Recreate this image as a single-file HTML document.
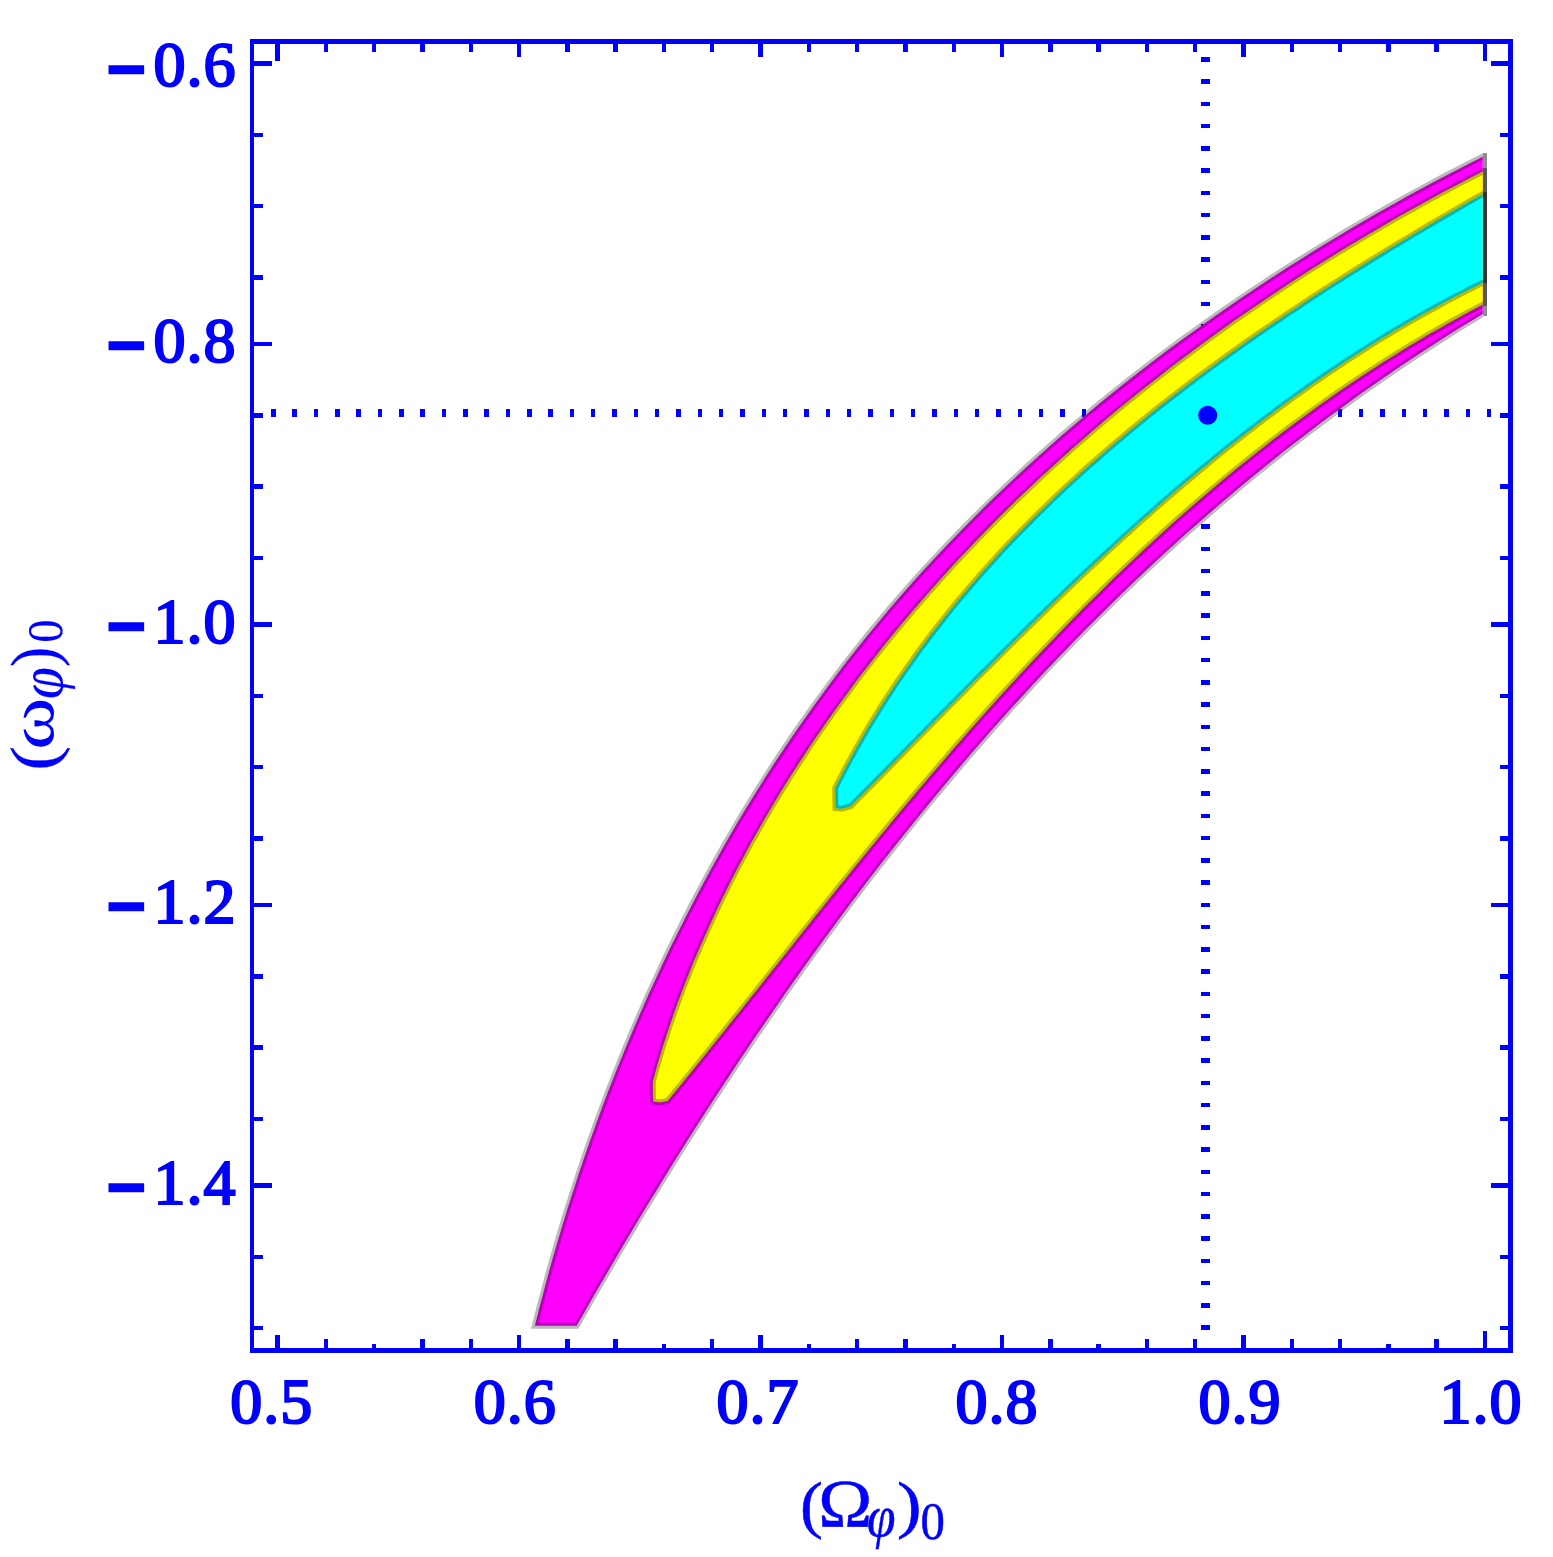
<!DOCTYPE html>
<html lang="en"><head><meta charset="utf-8"><title>Contour plot</title>
<style>
html,body{margin:0;padding:0;background:#fff;}
body{width:1553px;height:1557px;overflow:hidden;}
svg{display:block;}
</style></head><body>
<svg width="1553" height="1557" viewBox="0 0 1553 1557">
<rect width="1553" height="1557" fill="#fff"/>
<g fill="#0000ff" shape-rendering="crispEdges">
<rect x="271.1" y="408.7" width="4.4" height="8.7"/>
<rect x="292.4" y="408.7" width="4.4" height="8.7"/>
<rect x="313.8" y="408.7" width="4.4" height="8.7"/>
<rect x="335.1" y="408.7" width="4.4" height="8.7"/>
<rect x="356.4" y="408.7" width="4.4" height="8.7"/>
<rect x="377.7" y="408.7" width="4.4" height="8.7"/>
<rect x="399.1" y="408.7" width="4.4" height="8.7"/>
<rect x="420.4" y="408.7" width="4.4" height="8.7"/>
<rect x="441.7" y="408.7" width="4.4" height="8.7"/>
<rect x="463.1" y="408.7" width="4.4" height="8.7"/>
<rect x="484.4" y="408.7" width="4.4" height="8.7"/>
<rect x="505.7" y="408.7" width="4.4" height="8.7"/>
<rect x="527.1" y="408.7" width="4.4" height="8.7"/>
<rect x="548.4" y="408.7" width="4.4" height="8.7"/>
<rect x="569.7" y="408.7" width="4.4" height="8.7"/>
<rect x="591.0" y="408.7" width="4.4" height="8.7"/>
<rect x="612.4" y="408.7" width="4.4" height="8.7"/>
<rect x="633.7" y="408.7" width="4.4" height="8.7"/>
<rect x="655.0" y="408.7" width="4.4" height="8.7"/>
<rect x="676.4" y="408.7" width="4.4" height="8.7"/>
<rect x="697.7" y="408.7" width="4.4" height="8.7"/>
<rect x="719.0" y="408.7" width="4.4" height="8.7"/>
<rect x="740.4" y="408.7" width="4.4" height="8.7"/>
<rect x="761.7" y="408.7" width="4.4" height="8.7"/>
<rect x="783.0" y="408.7" width="4.4" height="8.7"/>
<rect x="804.4" y="408.7" width="4.4" height="8.7"/>
<rect x="825.7" y="408.7" width="4.4" height="8.7"/>
<rect x="847.0" y="408.7" width="4.4" height="8.7"/>
<rect x="868.3" y="408.7" width="4.4" height="8.7"/>
<rect x="889.7" y="408.7" width="4.4" height="8.7"/>
<rect x="911.0" y="408.7" width="4.4" height="8.7"/>
<rect x="932.3" y="408.7" width="4.4" height="8.7"/>
<rect x="953.7" y="408.7" width="4.4" height="8.7"/>
<rect x="975.0" y="408.7" width="4.4" height="8.7"/>
<rect x="996.3" y="408.7" width="4.4" height="8.7"/>
<rect x="1017.7" y="408.7" width="4.4" height="8.7"/>
<rect x="1039.0" y="408.7" width="4.4" height="8.7"/>
<rect x="1060.3" y="408.7" width="4.4" height="8.7"/>
<rect x="1081.6" y="408.7" width="4.4" height="8.7"/>
<rect x="1103.0" y="408.7" width="4.4" height="8.7"/>
<rect x="1124.3" y="408.7" width="4.4" height="8.7"/>
<rect x="1145.6" y="408.7" width="4.4" height="8.7"/>
<rect x="1167.0" y="408.7" width="4.4" height="8.7"/>
<rect x="1188.3" y="408.7" width="4.4" height="8.7"/>
<rect x="1209.6" y="408.7" width="4.4" height="8.7"/>
<rect x="1231.0" y="408.7" width="4.4" height="8.7"/>
<rect x="1252.3" y="408.7" width="4.4" height="8.7"/>
<rect x="1273.6" y="408.7" width="4.4" height="8.7"/>
<rect x="1294.9" y="408.7" width="4.4" height="8.7"/>
<rect x="1316.3" y="408.7" width="4.4" height="8.7"/>
<rect x="1337.6" y="408.7" width="4.4" height="8.7"/>
<rect x="1358.9" y="408.7" width="4.4" height="8.7"/>
<rect x="1380.3" y="408.7" width="4.4" height="8.7"/>
<rect x="1401.6" y="408.7" width="4.4" height="8.7"/>
<rect x="1422.9" y="408.7" width="4.4" height="8.7"/>
<rect x="1444.2" y="408.7" width="4.4" height="8.7"/>
<rect x="1465.6" y="408.7" width="4.4" height="8.7"/>
<rect x="1486.9" y="408.7" width="4.4" height="8.7"/>
<rect x="1201" y="57.1" width="8.8" height="4.4"/>
<rect x="1201" y="79.3" width="8.8" height="4.4"/>
<rect x="1201" y="101.6" width="8.8" height="4.4"/>
<rect x="1201" y="123.8" width="8.8" height="4.4"/>
<rect x="1201" y="146.1" width="8.8" height="4.4"/>
<rect x="1201" y="168.4" width="8.8" height="4.4"/>
<rect x="1201" y="190.6" width="8.8" height="4.4"/>
<rect x="1201" y="212.9" width="8.8" height="4.4"/>
<rect x="1201" y="235.1" width="8.8" height="4.4"/>
<rect x="1201" y="257.4" width="8.8" height="4.4"/>
<rect x="1201" y="279.6" width="8.8" height="4.4"/>
<rect x="1201" y="301.9" width="8.8" height="4.4"/>
<rect x="1201" y="324.1" width="8.8" height="4.4"/>
<rect x="1201" y="346.4" width="8.8" height="4.4"/>
<rect x="1201" y="368.6" width="8.8" height="4.4"/>
<rect x="1201" y="390.9" width="8.8" height="4.4"/>
<rect x="1201" y="413.1" width="8.8" height="4.4"/>
<rect x="1201" y="435.4" width="8.8" height="4.4"/>
<rect x="1201" y="457.6" width="8.8" height="4.4"/>
<rect x="1201" y="479.9" width="8.8" height="4.4"/>
<rect x="1201" y="502.1" width="8.8" height="4.4"/>
<rect x="1201" y="524.3" width="8.8" height="4.4"/>
<rect x="1201" y="546.6" width="8.8" height="4.4"/>
<rect x="1201" y="568.8" width="8.8" height="4.4"/>
<rect x="1201" y="591.1" width="8.8" height="4.4"/>
<rect x="1201" y="613.3" width="8.8" height="4.4"/>
<rect x="1201" y="635.6" width="8.8" height="4.4"/>
<rect x="1201" y="657.8" width="8.8" height="4.4"/>
<rect x="1201" y="680.1" width="8.8" height="4.4"/>
<rect x="1201" y="702.3" width="8.8" height="4.4"/>
<rect x="1201" y="724.6" width="8.8" height="4.4"/>
<rect x="1201" y="746.8" width="8.8" height="4.4"/>
<rect x="1201" y="769.1" width="8.8" height="4.4"/>
<rect x="1201" y="791.3" width="8.8" height="4.4"/>
<rect x="1201" y="813.6" width="8.8" height="4.4"/>
<rect x="1201" y="835.8" width="8.8" height="4.4"/>
<rect x="1201" y="858.1" width="8.8" height="4.4"/>
<rect x="1201" y="880.3" width="8.8" height="4.4"/>
<rect x="1201" y="902.6" width="8.8" height="4.4"/>
<rect x="1201" y="924.8" width="8.8" height="4.4"/>
<rect x="1201" y="947.1" width="8.8" height="4.4"/>
<rect x="1201" y="969.3" width="8.8" height="4.4"/>
<rect x="1201" y="991.6" width="8.8" height="4.4"/>
<rect x="1201" y="1013.8" width="8.8" height="4.4"/>
<rect x="1201" y="1036.1" width="8.8" height="4.4"/>
<rect x="1201" y="1058.3" width="8.8" height="4.4"/>
<rect x="1201" y="1080.6" width="8.8" height="4.4"/>
<rect x="1201" y="1102.8" width="8.8" height="4.4"/>
<rect x="1201" y="1125.1" width="8.8" height="4.4"/>
<rect x="1201" y="1147.3" width="8.8" height="4.4"/>
<rect x="1201" y="1169.6" width="8.8" height="4.4"/>
<rect x="1201" y="1191.8" width="8.8" height="4.4"/>
<rect x="1201" y="1214.1" width="8.8" height="4.4"/>
<rect x="1201" y="1236.3" width="8.8" height="4.4"/>
<rect x="1201" y="1258.6" width="8.8" height="4.4"/>
<rect x="1201" y="1280.8" width="8.8" height="4.4"/>
<rect x="1201" y="1303.1" width="8.8" height="4.4"/>
<rect x="1201" y="1325.3" width="8.8" height="4.4"/>
</g>
<clipPath id="pr"><rect x="252" y="41" width="1230.8" height="1309"/></clipPath>
<g clip-path="url(#pr)">
<g stroke="none">
<path d="M534.9 1325.7 L539.1 1308.8 L543.6 1291.8 L548.1 1274.9 L552.8 1258.1 L557.7 1241.2 L562.7 1224.4 L567.8 1207.7 L573.2 1191.0 L578.6 1174.3 L584.2 1157.7 L590.0 1141.1 L595.9 1124.5 L601.9 1108.0 L608.1 1091.6 L614.5 1075.3 L621.0 1058.9 L627.7 1042.7 L634.5 1026.5 L641.5 1010.4 L648.6 994.3 L655.9 978.4 L663.3 962.5 L670.9 946.6 L678.7 930.9 L686.6 915.2 L694.6 899.7 L702.8 884.2 L711.2 868.8 L719.7 853.4 L728.4 838.2 L737.2 823.1 L746.2 808.1 L755.4 793.2 L764.7 778.3 L774.2 763.6 L783.8 749.0 L793.6 734.5 L803.6 720.2 L813.7 705.9 L824.0 691.8 L834.4 677.7 L845.0 663.8 L855.8 650.1 L866.7 636.4 L877.8 622.9 L889.0 609.5 L900.4 596.2 L912.0 583.1 L923.7 570.1 L935.6 557.2 L947.6 544.5 L959.7 531.9 L972.0 519.4 L984.4 507.0 L997.0 494.8 L1009.7 482.7 L1022.5 470.8 L1035.4 458.9 L1048.5 447.2 L1061.7 435.6 L1075.0 424.2 L1088.4 412.8 L1101.9 401.6 L1115.6 390.6 L1129.4 379.6 L1143.2 368.8 L1157.2 358.1 L1171.2 347.6 L1185.4 337.2 L1199.7 326.9 L1214.0 316.7 L1228.4 306.7 L1243.0 296.7 L1257.6 287.0 L1272.3 277.3 L1287.0 267.8 L1301.9 258.4 L1316.8 249.1 L1331.8 240.0 L1346.8 230.9 L1361.9 222.1 L1377.1 213.3 L1392.4 204.7 L1407.7 196.1 L1423.0 187.8 L1438.4 179.5 L1453.9 171.4 L1469.4 163.4 L1484.9 155.5 L1485.0 312.6 L1471.6 320.7 L1458.3 328.8 L1445.2 337.1 L1432.1 345.5 L1419.0 353.9 L1406.1 362.5 L1393.2 371.2 L1380.5 380.0 L1367.8 388.8 L1355.2 397.8 L1342.6 406.9 L1330.2 416.0 L1317.8 425.3 L1305.5 434.7 L1293.3 444.1 L1281.2 453.6 L1269.1 463.3 L1257.1 473.0 L1245.2 482.8 L1233.4 492.7 L1221.6 502.7 L1210.0 512.7 L1198.4 522.9 L1186.8 533.1 L1175.4 543.4 L1164.0 553.8 L1152.7 564.3 L1141.4 574.9 L1130.3 585.5 L1119.2 596.2 L1108.2 607.0 L1097.2 617.9 L1086.3 628.8 L1075.5 639.8 L1064.8 650.9 L1054.1 662.0 L1043.5 673.3 L1033.0 684.5 L1022.5 695.9 L1012.1 707.3 L1001.8 718.8 L991.5 730.3 L981.3 742.0 L971.2 753.6 L961.1 765.4 L951.1 777.2 L941.2 789.0 L931.3 800.9 L921.5 812.9 L911.8 824.9 L902.1 837.0 L892.5 849.1 L882.9 861.3 L873.4 873.5 L864.0 885.8 L854.6 898.2 L845.3 910.5 L836.1 923.0 L826.9 935.4 L817.7 948.0 L808.7 960.5 L799.7 973.1 L790.7 985.8 L781.8 998.5 L773.0 1011.2 L764.2 1024.0 L755.4 1036.8 L746.8 1049.6 L738.1 1062.5 L729.6 1075.4 L721.1 1088.3 L712.6 1101.3 L704.2 1114.3 L695.8 1127.3 L687.5 1140.4 L679.3 1153.5 L671.1 1166.6 L663.0 1179.7 L654.9 1192.9 L646.8 1206.1 L638.8 1219.3 L630.9 1232.6 L623.0 1245.8 L615.2 1259.1 L607.4 1272.4 L599.6 1285.7 L591.9 1299.0 L584.3 1312.4 L576.7 1325.7 Z" fill="#ff00ff"/>
<path d="M653.2 1101.5 L652.8 1094.0 L652.8 1081.7 L656.5 1067.9 L660.5 1054.3 L664.7 1040.7 L669.2 1027.1 L673.8 1013.7 L678.6 1000.3 L683.6 987.0 L688.8 973.7 L694.2 960.6 L699.8 947.5 L705.5 934.4 L711.4 921.4 L717.4 908.5 L723.6 895.7 L729.9 883.0 L736.4 870.3 L743.1 857.7 L749.9 845.1 L756.8 832.7 L763.9 820.3 L771.1 807.9 L778.4 795.7 L785.9 783.6 L793.5 771.5 L801.3 759.5 L809.1 747.6 L817.1 735.7 L825.2 724.0 L833.5 712.3 L841.8 700.7 L850.3 689.2 L858.8 677.8 L867.5 666.5 L876.3 655.2 L885.1 644.1 L894.1 633.0 L903.2 622.1 L912.4 611.2 L921.7 600.4 L931.1 589.7 L940.6 579.0 L950.1 568.5 L959.8 558.0 L969.6 547.7 L979.4 537.4 L989.4 527.2 L999.4 517.1 L1009.6 507.1 L1019.8 497.1 L1030.1 487.3 L1040.4 477.5 L1050.9 467.9 L1061.5 458.3 L1072.1 448.8 L1082.8 439.4 L1093.6 430.0 L1104.4 420.8 L1115.4 411.6 L1126.4 402.6 L1137.5 393.6 L1148.6 384.7 L1159.9 375.9 L1171.2 367.1 L1182.5 358.5 L1194.0 350.0 L1205.4 341.5 L1217.0 333.1 L1228.6 324.8 L1240.3 316.6 L1252.1 308.5 L1263.9 300.4 L1275.7 292.5 L1287.6 284.6 L1299.6 276.8 L1311.6 269.1 L1323.7 261.5 L1335.8 254.0 L1348.0 246.6 L1360.2 239.2 L1372.5 231.9 L1384.8 224.7 L1397.2 217.6 L1409.6 210.6 L1422.1 203.7 L1434.5 196.8 L1447.1 190.1 L1459.6 183.4 L1472.3 176.8 L1484.9 170.3 L1484.9 303.6 L1473.4 309.6 L1462.0 315.7 L1450.6 322.0 L1439.3 328.4 L1428.1 334.8 L1417.0 341.4 L1405.9 348.1 L1394.9 354.9 L1383.9 361.8 L1373.1 368.8 L1362.3 375.8 L1351.5 383.0 L1340.8 390.3 L1330.2 397.7 L1319.7 405.1 L1309.2 412.7 L1298.8 420.3 L1288.4 428.0 L1278.2 435.8 L1267.9 443.7 L1257.8 451.7 L1247.7 459.7 L1237.6 467.8 L1227.6 476.0 L1217.7 484.3 L1207.8 492.7 L1198.0 501.1 L1188.3 509.6 L1178.6 518.1 L1168.9 526.8 L1159.3 535.5 L1149.8 544.2 L1140.3 553.0 L1130.9 561.9 L1121.6 570.8 L1112.2 579.8 L1103.0 588.9 L1093.8 598.0 L1084.6 607.1 L1075.5 616.3 L1066.4 625.6 L1057.4 634.9 L1048.5 644.2 L1039.6 653.6 L1030.7 663.0 L1021.9 672.5 L1013.1 682.0 L1004.4 691.6 L995.7 701.1 L987.0 710.8 L978.4 720.4 L969.9 730.1 L961.3 739.9 L952.8 749.6 L944.4 759.4 L936.0 769.2 L927.6 779.1 L919.2 789.0 L910.9 798.9 L902.6 808.8 L894.3 818.8 L886.1 828.7 L877.9 838.7 L869.7 848.7 L861.5 858.8 L853.4 868.8 L845.3 878.9 L837.1 889.0 L829.1 899.1 L821.0 909.2 L812.9 919.3 L804.9 929.4 L796.8 939.5 L788.8 949.7 L780.8 959.8 L772.7 969.9 L764.7 980.1 L756.7 990.2 L748.6 1000.3 L740.6 1010.4 L732.5 1020.5 L724.5 1030.7 L716.4 1040.7 L708.3 1050.8 L700.2 1060.9 L692.1 1071.0 L684.0 1081.0 L675.8 1091.0 L667.6 1101.0 L660.0 1102.5 Z" fill="#ffff00"/>
<path d="M835.5 808.0 L835.3 798.0 L835.2 788.0 L839.8 778.9 L844.5 769.9 L849.3 761.0 L854.1 752.1 L859.1 743.3 L864.1 734.5 L869.2 725.8 L874.4 717.2 L879.7 708.7 L885.1 700.2 L890.6 691.8 L896.1 683.4 L901.8 675.1 L907.5 666.9 L913.3 658.7 L919.1 650.6 L925.1 642.6 L931.1 634.6 L937.2 626.7 L943.4 618.8 L949.6 611.0 L955.9 603.2 L962.3 595.6 L968.8 587.9 L975.3 580.4 L981.9 572.8 L988.5 565.4 L995.3 558.0 L1002.0 550.6 L1008.9 543.3 L1015.8 536.1 L1022.8 528.9 L1029.8 521.8 L1036.9 514.7 L1044.1 507.7 L1051.3 500.7 L1058.5 493.8 L1065.8 486.9 L1073.2 480.1 L1080.6 473.3 L1088.1 466.6 L1095.6 459.9 L1103.2 453.3 L1110.8 446.7 L1118.5 440.2 L1126.2 433.7 L1133.9 427.3 L1141.7 420.9 L1149.5 414.5 L1157.4 408.2 L1165.3 402.0 L1173.3 395.8 L1181.3 389.6 L1189.3 383.5 L1197.4 377.4 L1205.5 371.4 L1213.6 365.4 L1221.8 359.4 L1230.0 353.5 L1238.2 347.7 L1246.5 341.8 L1254.8 336.0 L1263.1 330.3 L1271.4 324.6 L1279.8 318.9 L1288.1 313.3 L1296.6 307.7 L1305.0 302.1 L1313.4 296.6 L1321.9 291.1 L1330.4 285.6 L1338.9 280.2 L1347.4 274.8 L1355.9 269.4 L1364.5 264.1 L1373.0 258.8 L1381.6 253.6 L1390.2 248.3 L1398.8 243.1 L1407.4 238.0 L1416.0 232.8 L1424.6 227.7 L1433.2 222.7 L1441.8 217.6 L1450.4 212.6 L1459.0 207.6 L1467.6 202.6 L1476.3 197.7 L1484.9 192.8 L1484.9 281.7 L1476.5 285.8 L1468.1 290.0 L1459.7 294.3 L1451.4 298.6 L1443.2 303.0 L1435.0 307.5 L1426.8 312.0 L1418.7 316.6 L1410.6 321.2 L1402.5 325.9 L1394.5 330.6 L1386.6 335.4 L1378.6 340.3 L1370.8 345.2 L1362.9 350.2 L1355.1 355.2 L1347.3 360.2 L1339.6 365.4 L1331.9 370.5 L1324.2 375.7 L1316.6 381.0 L1309.0 386.3 L1301.5 391.7 L1293.9 397.1 L1286.4 402.5 L1279.0 408.0 L1271.6 413.6 L1264.2 419.1 L1256.8 424.8 L1249.5 430.4 L1242.2 436.1 L1234.9 441.9 L1227.6 447.6 L1220.4 453.4 L1213.2 459.3 L1206.1 465.2 L1198.9 471.1 L1191.8 477.1 L1184.7 483.1 L1177.7 489.1 L1170.6 495.1 L1163.6 501.2 L1156.6 507.3 L1149.7 513.5 L1142.7 519.6 L1135.8 525.8 L1128.9 532.1 L1122.0 538.3 L1115.2 544.6 L1108.3 550.9 L1101.5 557.2 L1094.7 563.5 L1087.9 569.9 L1081.1 576.3 L1074.4 582.7 L1067.7 589.1 L1060.9 595.6 L1054.2 602.0 L1047.5 608.5 L1040.9 615.0 L1034.2 621.5 L1027.5 628.0 L1020.9 634.5 L1014.3 641.1 L1007.7 647.6 L1001.1 654.2 L994.5 660.8 L987.9 667.4 L981.3 673.9 L974.7 680.5 L968.2 687.1 L961.6 693.8 L955.1 700.4 L948.5 707.0 L942.0 713.6 L935.5 720.2 L928.9 726.8 L922.4 733.5 L915.9 740.1 L909.4 746.7 L902.9 753.3 L896.4 759.9 L889.9 766.6 L883.4 773.2 L876.8 779.8 L870.3 786.4 L863.8 792.9 L857.3 799.5 L850.8 806.1 L842.0 808.7 Z" fill="#00ffff"/>
</g>
<g fill="none" stroke="#000" stroke-opacity="0.27" stroke-width="6" stroke-linejoin="miter">
<path d="M1485.0 312.6 L1471.6 320.7 L1458.3 328.8 L1445.2 337.1 L1432.1 345.5 L1419.0 353.9 L1406.1 362.5 L1393.2 371.2 L1380.5 380.0 L1367.8 388.8 L1355.2 397.8 L1342.6 406.9 L1330.2 416.0 L1317.8 425.3 L1305.5 434.7 L1293.3 444.1 L1281.2 453.6 L1269.1 463.3 L1257.1 473.0 L1245.2 482.8 L1233.4 492.7 L1221.6 502.7 L1210.0 512.7 L1198.4 522.9 L1186.8 533.1 L1175.4 543.4 L1164.0 553.8 L1152.7 564.3 L1141.4 574.9 L1130.3 585.5 L1119.2 596.2 L1108.2 607.0 L1097.2 617.9 L1086.3 628.8 L1075.5 639.8 L1064.8 650.9 L1054.1 662.0 L1043.5 673.3 L1033.0 684.5 L1022.5 695.9 L1012.1 707.3 L1001.8 718.8 L991.5 730.3 L981.3 742.0 L971.2 753.6 L961.1 765.4 L951.1 777.2 L941.2 789.0 L931.3 800.9 L921.5 812.9 L911.8 824.9 L902.1 837.0 L892.5 849.1 L882.9 861.3 L873.4 873.5 L864.0 885.8 L854.6 898.2 L845.3 910.5 L836.1 923.0 L826.9 935.4 L817.7 948.0 L808.7 960.5 L799.7 973.1 L790.7 985.8 L781.8 998.5 L773.0 1011.2 L764.2 1024.0 L755.4 1036.8 L746.8 1049.6 L738.1 1062.5 L729.6 1075.4 L721.1 1088.3 L712.6 1101.3 L704.2 1114.3 L695.8 1127.3 L687.5 1140.4 L679.3 1153.5 L671.1 1166.6 L663.0 1179.7 L654.9 1192.9 L646.8 1206.1 L638.8 1219.3 L630.9 1232.6 L623.0 1245.8 L615.2 1259.1 L607.4 1272.4 L599.6 1285.7 L591.9 1299.0 L584.3 1312.4 L576.7 1325.7 L534.9 1325.7 L539.1 1308.8 L543.6 1291.8 L548.1 1274.9 L552.8 1258.1 L557.7 1241.2 L562.7 1224.4 L567.8 1207.7 L573.2 1191.0 L578.6 1174.3 L584.2 1157.7 L590.0 1141.1 L595.9 1124.5 L601.9 1108.0 L608.1 1091.6 L614.5 1075.3 L621.0 1058.9 L627.7 1042.7 L634.5 1026.5 L641.5 1010.4 L648.6 994.3 L655.9 978.4 L663.3 962.5 L670.9 946.6 L678.7 930.9 L686.6 915.2 L694.6 899.7 L702.8 884.2 L711.2 868.8 L719.7 853.4 L728.4 838.2 L737.2 823.1 L746.2 808.1 L755.4 793.2 L764.7 778.3 L774.2 763.6 L783.8 749.0 L793.6 734.5 L803.6 720.2 L813.7 705.9 L824.0 691.8 L834.4 677.7 L845.0 663.8 L855.8 650.1 L866.7 636.4 L877.8 622.9 L889.0 609.5 L900.4 596.2 L912.0 583.1 L923.7 570.1 L935.6 557.2 L947.6 544.5 L959.7 531.9 L972.0 519.4 L984.4 507.0 L997.0 494.8 L1009.7 482.7 L1022.5 470.8 L1035.4 458.9 L1048.5 447.2 L1061.7 435.6 L1075.0 424.2 L1088.4 412.8 L1101.9 401.6 L1115.6 390.6 L1129.4 379.6 L1143.2 368.8 L1157.2 358.1 L1171.2 347.6 L1185.4 337.2 L1199.7 326.9 L1214.0 316.7 L1228.4 306.7 L1243.0 296.7 L1257.6 287.0 L1272.3 277.3 L1287.0 267.8 L1301.9 258.4 L1316.8 249.1 L1331.8 240.0 L1346.8 230.9 L1361.9 222.1 L1377.1 213.3 L1392.4 204.7 L1407.7 196.1 L1423.0 187.8 L1438.4 179.5 L1453.9 171.4 L1469.4 163.4 L1484.9 155.5"/>
<path d="M1484.9 303.6 L1473.4 309.6 L1462.0 315.7 L1450.6 322.0 L1439.3 328.4 L1428.1 334.8 L1417.0 341.4 L1405.9 348.1 L1394.9 354.9 L1383.9 361.8 L1373.1 368.8 L1362.3 375.8 L1351.5 383.0 L1340.8 390.3 L1330.2 397.7 L1319.7 405.1 L1309.2 412.7 L1298.8 420.3 L1288.4 428.0 L1278.2 435.8 L1267.9 443.7 L1257.8 451.7 L1247.7 459.7 L1237.6 467.8 L1227.6 476.0 L1217.7 484.3 L1207.8 492.7 L1198.0 501.1 L1188.3 509.6 L1178.6 518.1 L1168.9 526.8 L1159.3 535.5 L1149.8 544.2 L1140.3 553.0 L1130.9 561.9 L1121.6 570.8 L1112.2 579.8 L1103.0 588.9 L1093.8 598.0 L1084.6 607.1 L1075.5 616.3 L1066.4 625.6 L1057.4 634.9 L1048.5 644.2 L1039.6 653.6 L1030.7 663.0 L1021.9 672.5 L1013.1 682.0 L1004.4 691.6 L995.7 701.1 L987.0 710.8 L978.4 720.4 L969.9 730.1 L961.3 739.9 L952.8 749.6 L944.4 759.4 L936.0 769.2 L927.6 779.1 L919.2 789.0 L910.9 798.9 L902.6 808.8 L894.3 818.8 L886.1 828.7 L877.9 838.7 L869.7 848.7 L861.5 858.8 L853.4 868.8 L845.3 878.9 L837.1 889.0 L829.1 899.1 L821.0 909.2 L812.9 919.3 L804.9 929.4 L796.8 939.5 L788.8 949.7 L780.8 959.8 L772.7 969.9 L764.7 980.1 L756.7 990.2 L748.6 1000.3 L740.6 1010.4 L732.5 1020.5 L724.5 1030.7 L716.4 1040.7 L708.3 1050.8 L700.2 1060.9 L692.1 1071.0 L684.0 1081.0 L675.8 1091.0 L667.6 1101.0 L660.0 1102.5 L653.2 1101.5 L652.8 1094.0 L652.8 1081.7 L656.5 1067.9 L660.5 1054.3 L664.7 1040.7 L669.2 1027.1 L673.8 1013.7 L678.6 1000.3 L683.6 987.0 L688.8 973.7 L694.2 960.6 L699.8 947.5 L705.5 934.4 L711.4 921.4 L717.4 908.5 L723.6 895.7 L729.9 883.0 L736.4 870.3 L743.1 857.7 L749.9 845.1 L756.8 832.7 L763.9 820.3 L771.1 807.9 L778.4 795.7 L785.9 783.6 L793.5 771.5 L801.3 759.5 L809.1 747.6 L817.1 735.7 L825.2 724.0 L833.5 712.3 L841.8 700.7 L850.3 689.2 L858.8 677.8 L867.5 666.5 L876.3 655.2 L885.1 644.1 L894.1 633.0 L903.2 622.1 L912.4 611.2 L921.7 600.4 L931.1 589.7 L940.6 579.0 L950.1 568.5 L959.8 558.0 L969.6 547.7 L979.4 537.4 L989.4 527.2 L999.4 517.1 L1009.6 507.1 L1019.8 497.1 L1030.1 487.3 L1040.4 477.5 L1050.9 467.9 L1061.5 458.3 L1072.1 448.8 L1082.8 439.4 L1093.6 430.0 L1104.4 420.8 L1115.4 411.6 L1126.4 402.6 L1137.5 393.6 L1148.6 384.7 L1159.9 375.9 L1171.2 367.1 L1182.5 358.5 L1194.0 350.0 L1205.4 341.5 L1217.0 333.1 L1228.6 324.8 L1240.3 316.6 L1252.1 308.5 L1263.9 300.4 L1275.7 292.5 L1287.6 284.6 L1299.6 276.8 L1311.6 269.1 L1323.7 261.5 L1335.8 254.0 L1348.0 246.6 L1360.2 239.2 L1372.5 231.9 L1384.8 224.7 L1397.2 217.6 L1409.6 210.6 L1422.1 203.7 L1434.5 196.8 L1447.1 190.1 L1459.6 183.4 L1472.3 176.8 L1484.9 170.3"/>
<path d="M1484.9 281.7 L1476.5 285.8 L1468.1 290.0 L1459.7 294.3 L1451.4 298.6 L1443.2 303.0 L1435.0 307.5 L1426.8 312.0 L1418.7 316.6 L1410.6 321.2 L1402.5 325.9 L1394.5 330.6 L1386.6 335.4 L1378.6 340.3 L1370.8 345.2 L1362.9 350.2 L1355.1 355.2 L1347.3 360.2 L1339.6 365.4 L1331.9 370.5 L1324.2 375.7 L1316.6 381.0 L1309.0 386.3 L1301.5 391.7 L1293.9 397.1 L1286.4 402.5 L1279.0 408.0 L1271.6 413.6 L1264.2 419.1 L1256.8 424.8 L1249.5 430.4 L1242.2 436.1 L1234.9 441.9 L1227.6 447.6 L1220.4 453.4 L1213.2 459.3 L1206.1 465.2 L1198.9 471.1 L1191.8 477.1 L1184.7 483.1 L1177.7 489.1 L1170.6 495.1 L1163.6 501.2 L1156.6 507.3 L1149.7 513.5 L1142.7 519.6 L1135.8 525.8 L1128.9 532.1 L1122.0 538.3 L1115.2 544.6 L1108.3 550.9 L1101.5 557.2 L1094.7 563.5 L1087.9 569.9 L1081.1 576.3 L1074.4 582.7 L1067.7 589.1 L1060.9 595.6 L1054.2 602.0 L1047.5 608.5 L1040.9 615.0 L1034.2 621.5 L1027.5 628.0 L1020.9 634.5 L1014.3 641.1 L1007.7 647.6 L1001.1 654.2 L994.5 660.8 L987.9 667.4 L981.3 673.9 L974.7 680.5 L968.2 687.1 L961.6 693.8 L955.1 700.4 L948.5 707.0 L942.0 713.6 L935.5 720.2 L928.9 726.8 L922.4 733.5 L915.9 740.1 L909.4 746.7 L902.9 753.3 L896.4 759.9 L889.9 766.6 L883.4 773.2 L876.8 779.8 L870.3 786.4 L863.8 792.9 L857.3 799.5 L850.8 806.1 L842.0 808.7 L835.5 808.0 L835.3 798.0 L835.2 788.0 L839.8 778.9 L844.5 769.9 L849.3 761.0 L854.1 752.1 L859.1 743.3 L864.1 734.5 L869.2 725.8 L874.4 717.2 L879.7 708.7 L885.1 700.2 L890.6 691.8 L896.1 683.4 L901.8 675.1 L907.5 666.9 L913.3 658.7 L919.1 650.6 L925.1 642.6 L931.1 634.6 L937.2 626.7 L943.4 618.8 L949.6 611.0 L955.9 603.2 L962.3 595.6 L968.8 587.9 L975.3 580.4 L981.9 572.8 L988.5 565.4 L995.3 558.0 L1002.0 550.6 L1008.9 543.3 L1015.8 536.1 L1022.8 528.9 L1029.8 521.8 L1036.9 514.7 L1044.1 507.7 L1051.3 500.7 L1058.5 493.8 L1065.8 486.9 L1073.2 480.1 L1080.6 473.3 L1088.1 466.6 L1095.6 459.9 L1103.2 453.3 L1110.8 446.7 L1118.5 440.2 L1126.2 433.7 L1133.9 427.3 L1141.7 420.9 L1149.5 414.5 L1157.4 408.2 L1165.3 402.0 L1173.3 395.8 L1181.3 389.6 L1189.3 383.5 L1197.4 377.4 L1205.5 371.4 L1213.6 365.4 L1221.8 359.4 L1230.0 353.5 L1238.2 347.7 L1246.5 341.8 L1254.8 336.0 L1263.1 330.3 L1271.4 324.6 L1279.8 318.9 L1288.1 313.3 L1296.6 307.7 L1305.0 302.1 L1313.4 296.6 L1321.9 291.1 L1330.4 285.6 L1338.9 280.2 L1347.4 274.8 L1355.9 269.4 L1364.5 264.1 L1373.0 258.8 L1381.6 253.6 L1390.2 248.3 L1398.8 243.1 L1407.4 238.0 L1416.0 232.8 L1424.6 227.7 L1433.2 222.7 L1441.8 217.6 L1450.4 212.6 L1459.0 207.6 L1467.6 202.6 L1476.3 197.7 L1484.9 192.8"/>
</g>
</g>
<rect x="1482.8" y="152.5" width="4.4" height="15.8" fill="#000" fill-opacity="0.45" shape-rendering="crispEdges"/>
<rect x="1482.8" y="168.3" width="4.4" height="23.5" fill="#000" fill-opacity="0.66" shape-rendering="crispEdges"/>
<rect x="1482.8" y="191.8" width="4.4" height="90.9" fill="#000" fill-opacity="0.80" shape-rendering="crispEdges"/>
<rect x="1482.8" y="282.7" width="4.4" height="22.8" fill="#000" fill-opacity="0.66" shape-rendering="crispEdges"/>
<rect x="1482.8" y="305.6" width="4.4" height="10.1" fill="#000" fill-opacity="0.45" shape-rendering="crispEdges"/>
<circle cx="1207.7" cy="415.2" r="9.5" fill="#0000ff"/>
<g fill="#0000ff" shape-rendering="crispEdges">
<rect x="249.8" y="39.1" width="1263.0" height="4.4"/>
<rect x="249.8" y="1348.2" width="1263.0" height="4.4"/>
<rect x="249.8" y="39.1" width="4.4" height="1313.5"/>
<rect x="1508.4" y="39.1" width="4.4" height="1313.5"/>
<rect x="275.4" y="1334.7" width="4.4" height="14.5"/>
<rect x="275.4" y="42.5" width="4.4" height="18.5"/>
<rect x="323.7" y="1339.4" width="4.4" height="9.8"/>
<rect x="323.7" y="42.5" width="4.4" height="9.8"/>
<rect x="372.0" y="1343.8" width="4.4" height="5.4"/>
<rect x="372.0" y="42.5" width="4.4" height="9.8"/>
<rect x="420.3" y="1339.4" width="4.4" height="9.8"/>
<rect x="420.3" y="42.5" width="4.4" height="9.8"/>
<rect x="468.6" y="1339.4" width="4.4" height="9.8"/>
<rect x="468.6" y="42.5" width="4.4" height="9.8"/>
<rect x="516.9" y="1334.7" width="4.4" height="14.5"/>
<rect x="516.9" y="42.5" width="4.4" height="14.5"/>
<rect x="565.2" y="1339.4" width="4.4" height="9.8"/>
<rect x="565.2" y="42.5" width="4.4" height="9.8"/>
<rect x="613.4" y="1339.4" width="4.4" height="9.8"/>
<rect x="613.4" y="42.5" width="4.4" height="9.8"/>
<rect x="661.7" y="1343.8" width="4.4" height="5.4"/>
<rect x="661.7" y="42.5" width="4.4" height="9.8"/>
<rect x="710.0" y="1339.4" width="4.4" height="9.8"/>
<rect x="710.0" y="42.5" width="4.4" height="9.8"/>
<rect x="758.3" y="1334.7" width="4.4" height="14.5"/>
<rect x="758.3" y="42.5" width="4.4" height="14.5"/>
<rect x="806.6" y="1343.8" width="4.4" height="5.4"/>
<rect x="806.6" y="42.5" width="4.4" height="9.8"/>
<rect x="854.9" y="1339.4" width="4.4" height="9.8"/>
<rect x="854.9" y="42.5" width="4.4" height="9.8"/>
<rect x="903.2" y="1339.4" width="4.4" height="9.8"/>
<rect x="903.2" y="42.5" width="4.4" height="9.8"/>
<rect x="951.5" y="1343.8" width="4.4" height="5.4"/>
<rect x="951.5" y="42.5" width="4.4" height="9.8"/>
<rect x="999.8" y="1334.7" width="4.4" height="14.5"/>
<rect x="999.8" y="42.5" width="4.4" height="14.5"/>
<rect x="1048.1" y="1339.4" width="4.4" height="9.8"/>
<rect x="1048.1" y="42.5" width="4.4" height="9.8"/>
<rect x="1096.4" y="1343.8" width="4.4" height="5.4"/>
<rect x="1096.4" y="42.5" width="4.4" height="9.8"/>
<rect x="1144.7" y="1339.4" width="4.4" height="9.8"/>
<rect x="1144.7" y="42.5" width="4.4" height="9.8"/>
<rect x="1192.9" y="1339.4" width="4.4" height="9.8"/>
<rect x="1192.9" y="42.5" width="4.4" height="9.8"/>
<rect x="1241.2" y="1334.7" width="4.4" height="14.5"/>
<rect x="1241.2" y="42.5" width="4.4" height="14.5"/>
<rect x="1289.5" y="1339.4" width="4.4" height="9.8"/>
<rect x="1289.5" y="42.5" width="4.4" height="9.8"/>
<rect x="1337.8" y="1339.4" width="4.4" height="9.8"/>
<rect x="1337.8" y="42.5" width="4.4" height="9.8"/>
<rect x="1386.1" y="1343.8" width="4.4" height="5.4"/>
<rect x="1386.1" y="42.5" width="4.4" height="9.8"/>
<rect x="1434.4" y="1339.4" width="4.4" height="9.8"/>
<rect x="1434.4" y="42.5" width="4.4" height="9.8"/>
<rect x="1482.7" y="1330.7" width="4.4" height="18.5"/>
<rect x="1482.7" y="42.5" width="4.4" height="18.5"/>
<rect x="253.2" y="61.2" width="18.5" height="4.4"/>
<rect x="1490.9" y="61.2" width="18.5" height="4.4"/>
<rect x="253.2" y="132.5" width="9.8" height="4.4"/>
<rect x="1499.6" y="132.5" width="9.8" height="4.4"/>
<rect x="253.2" y="203.8" width="9.8" height="4.4"/>
<rect x="1499.6" y="203.8" width="9.8" height="4.4"/>
<rect x="253.2" y="275.1" width="9.8" height="4.4"/>
<rect x="1499.6" y="275.1" width="9.8" height="4.4"/>
<rect x="253.2" y="341.8" width="18.5" height="4.4"/>
<rect x="1490.9" y="341.8" width="18.5" height="4.4"/>
<rect x="253.2" y="413.1" width="9.8" height="4.4"/>
<rect x="1499.6" y="413.1" width="9.8" height="4.4"/>
<rect x="253.2" y="484.4" width="9.8" height="4.4"/>
<rect x="1499.6" y="484.4" width="9.8" height="4.4"/>
<rect x="253.2" y="555.7" width="9.8" height="4.4"/>
<rect x="1499.6" y="555.7" width="9.8" height="4.4"/>
<rect x="253.2" y="622.4" width="18.5" height="4.4"/>
<rect x="1490.9" y="622.4" width="18.5" height="4.4"/>
<rect x="253.2" y="693.7" width="9.8" height="4.4"/>
<rect x="1499.6" y="693.7" width="9.8" height="4.4"/>
<rect x="253.2" y="765.0" width="9.8" height="4.4"/>
<rect x="1499.6" y="765.0" width="9.8" height="4.4"/>
<rect x="253.2" y="836.3" width="9.8" height="4.4"/>
<rect x="1499.6" y="836.3" width="9.8" height="4.4"/>
<rect x="253.2" y="902.8" width="18.5" height="4.4"/>
<rect x="1490.9" y="902.8" width="18.5" height="4.4"/>
<rect x="253.2" y="974.1" width="9.8" height="4.4"/>
<rect x="1499.6" y="974.1" width="9.8" height="4.4"/>
<rect x="253.2" y="1045.4" width="9.8" height="4.4"/>
<rect x="1499.6" y="1045.4" width="9.8" height="4.4"/>
<rect x="253.2" y="1116.7" width="9.8" height="4.4"/>
<rect x="1499.6" y="1116.7" width="9.8" height="4.4"/>
<rect x="253.2" y="1183.2" width="18.5" height="4.4"/>
<rect x="1490.9" y="1183.2" width="18.5" height="4.4"/>
<rect x="253.2" y="1254.5" width="9.8" height="4.4"/>
<rect x="1499.6" y="1254.5" width="9.8" height="4.4"/>
<rect x="253.2" y="1325.8" width="9.8" height="4.4"/>
<rect x="1499.6" y="1325.8" width="9.8" height="4.4"/>
</g>
<g fill="#0000ff" stroke="#0000ff" stroke-width="2.2" font-family="'Liberation Serif', serif" font-size="64" letter-spacing="1">
<text x="230.3" y="1422.5">0.5</text>
<text x="473.7" y="1422.5">0.6</text>
<text x="716.4" y="1422.5">0.7</text>
<text x="955.5" y="1422.5">0.8</text>
<text x="1198.5" y="1422.5">0.9</text>
<text x="1439.5" y="1422.5">1.0</text>
<text y="86.3"><tspan x="107" dy="6.1" font-size="67" font-weight="bold" stroke-width="4.5">−</tspan><tspan x="153.5" dy="-6.1">0.6</tspan></text>
<text y="362.3"><tspan x="107" dy="6.1" font-size="67" font-weight="bold" stroke-width="4.5">−</tspan><tspan x="153.5" dy="-6.1">0.8</tspan></text>
<text y="642.8"><tspan x="107" dy="6.1" font-size="67" font-weight="bold" stroke-width="4.5">−</tspan><tspan x="153.5" dy="-6.1">1.0</tspan></text>
<text y="923.3"><tspan x="107" dy="6.1" font-size="67" font-weight="bold" stroke-width="4.5">−</tspan><tspan x="153.5" dy="-6.1">1.2</tspan></text>
<text y="1203.8"><tspan x="107" dy="6.1" font-size="67" font-weight="bold" stroke-width="4.5">−</tspan><tspan x="153.5" dy="-6.1">1.4</tspan></text>
</g>
<g fill="#0000ff" stroke="#0000ff" font-family="'Liberation Serif', serif">
<text><tspan x="799.91" y="1525.97" font-size="64.4" stroke-width="0.5" textLength="22.85" lengthAdjust="spacingAndGlyphs">(</tspan><tspan x="818.37" y="1525.80" font-size="67.1" stroke-width="0.5" textLength="54.00" lengthAdjust="spacingAndGlyphs">Ω</tspan><tspan x="866.95" y="1536.04" font-size="58.4" font-style="italic" stroke-width="0.5" textLength="28.50" lengthAdjust="spacingAndGlyphs">φ</tspan><tspan x="896.75" y="1525.97" font-size="64.4" stroke-width="0.5" textLength="24.98" lengthAdjust="spacingAndGlyphs">)</tspan><tspan x="920.55" y="1538.97" font-size="52.7" stroke-width="0.5" textLength="24.40" lengthAdjust="spacingAndGlyphs">0</tspan></text>
<text transform="translate(53.5,770) rotate(-90)"><tspan x="-0.85" y="2.63" font-size="65.6" stroke-width="0.2" textLength="24.81" lengthAdjust="spacingAndGlyphs">(</tspan><tspan x="20.33" y="-0.33" font-size="62.7" stroke-width="0.0" textLength="52.20" lengthAdjust="spacingAndGlyphs">ω</tspan><tspan x="70.88" y="8.08" font-size="60.6" font-style="italic" stroke-width="0.2" textLength="31.74" lengthAdjust="spacingAndGlyphs">φ</tspan><tspan x="102.65" y="2.63" font-size="65.6" stroke-width="0.2" textLength="20.49" lengthAdjust="spacingAndGlyphs">)</tspan><tspan x="127.14" y="8.29" font-size="51.0" stroke-width="0.2" textLength="23.21" lengthAdjust="spacingAndGlyphs">0</tspan></text>
</g>
</svg>
</body></html>
